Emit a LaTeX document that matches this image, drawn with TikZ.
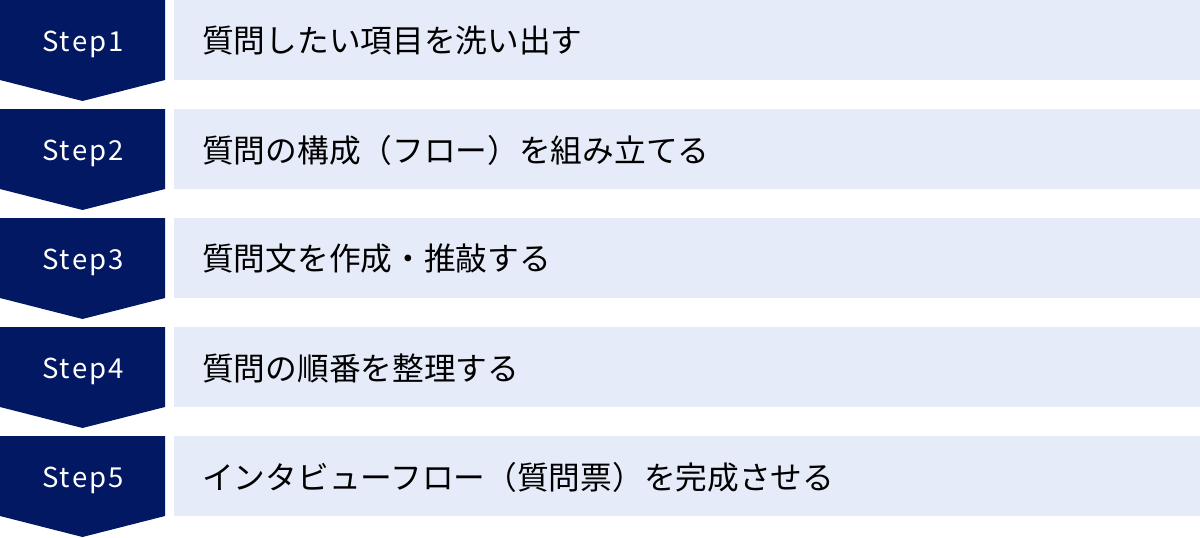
\documentclass[tikz,border=0pt]{standalone}
\usepackage{fontspec}
\setmainfont{Noto Sans CJK JP}
\newfontfamily\stepfont[LetterSpace=8]{Noto Sans CJK JP}
\definecolor{navy}{HTML}{031862}
\definecolor{lightbox}{HTML}{E5EBF8}
\tikzset{
  chev/.style={fill=navy, draw=none},
  itembox/.style={fill=lightbox, draw=none, anchor=north west, inner sep=0pt,
    minimum width=1026pt, minimum height=80pt},
  steplabel/.style={text=white, anchor=base, font=\stepfont\fontsize{27.5}{32}\selectfont, inner sep=0pt},
  itemlabel/.style={text=black, anchor=west, font=\fontsize{31.7}{38}\selectfont, inner sep=0pt}
}
\begin{document}
\begin{tikzpicture}[x=1pt,y=-1pt]
\useasboundingbox (0,0) rectangle (1200,538);
\foreach \i/\txt [count=\n from 0] in {1/質問したい項目を洗い出す,2/質問の構成（フロー）を組み立てる,3/質問文を作成・推敲する,4/質問の順番を整理する,5/インタビューフロー（質問票）を完成させる}{
  \pgfmathsetmacro{\t}{\n*109}
  \fill[chev] (0,\t) -- (165,\t) -- (165,\t+80) -- (82.5,\t+101) -- (0,\t+80) -- cycle;
  \node[itembox] (box\i) at (174,\t) {};
  \node[steplabel] (step\i) at (83,\t+51.5) {Step\i};
  \node[itemlabel] (item\i) at (202,\t+41) {\txt};
}
\end{tikzpicture}
\end{document}
